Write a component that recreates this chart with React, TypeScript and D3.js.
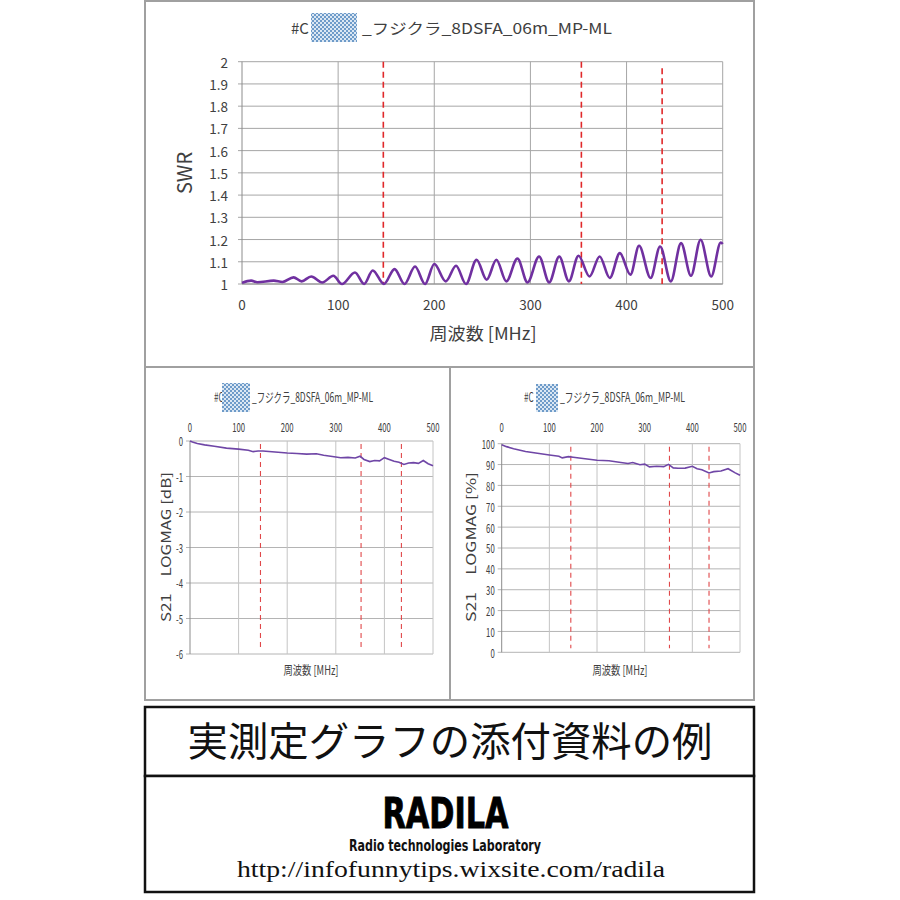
import { useEffect, useRef } from 'react';
import * as d3 from 'd3';

// SWR extremes (MHz, SWR)
const swrFreq = [
  0, 9.5, 16, 33, 42, 53.6, 62, 72, 83.5, 95, 104, 117.5, 127, 136, 147.6, 158.7, 169, 180, 190.4, 200,
  212, 222.6, 233, 244, 254.5, 264.6, 275, 286.5, 297, 309, 319.5, 330, 340, 350, 361.5, 372, 382.5, 393,
  404, 413, 425, 434.9, 446, 456.7, 467, 477, 488, 498, 500,
];
const swrValue = [
  1.005, 1.015, 1.008, 1.015, 1.009, 1.03, 1.012, 1.034, 1.007, 1.037, 1.0, 1.052, 1.0, 1.061, 1.0, 1.067,
  1.0, 1.079, 1.0, 1.09, 1.012, 1.082, 1.0, 1.109, 1.019, 1.109, 1.012, 1.115, 1.007, 1.124, 1.007, 1.124,
  1.012, 1.127, 1.034, 1.124, 1.027, 1.139, 1.042, 1.172, 1.027, 1.169, 1.012, 1.184, 1.037, 1.199, 1.034,
  1.187, 1.18,
];

// S21 in dB (lower left)
const s21Freq = [
  0, 5, 15, 30, 50, 75, 100, 120, 130, 140, 150, 175, 200, 220, 240, 260, 275, 300, 310, 325, 340, 350, 358,
  370, 380, 390, 400, 410, 420, 430, 440, 450, 460, 470, 480, 490, 500,
];
const s21Db = [
  0, -0.03, -0.07, -0.11, -0.15, -0.2, -0.23, -0.26, -0.3, -0.28, -0.28, -0.31, -0.34, -0.35, -0.37, -0.36,
  -0.4, -0.45, -0.47, -0.46, -0.48, -0.43, -0.52, -0.58, -0.55, -0.56, -0.47, -0.52, -0.57, -0.6, -0.66,
  -0.62, -0.61, -0.63, -0.55, -0.64, -0.7,
];

// S21 in percent (lower right)
const pctFreq = [
  0, 10, 25, 50, 75, 100, 120, 127, 140, 150, 175, 200, 225, 250, 265, 275, 290, 300, 310, 325, 340, 350,
  360, 370, 385, 400, 410, 420, 435, 445, 460, 475, 490, 500,
];
const pctValue = [
  99.5, 98.6, 97.6, 96.3, 95.4, 94.6, 94.0, 93.2, 93.8, 93.5, 92.8, 92.1, 91.8, 91.0, 90.5, 91.0, 89.9, 90.2,
  88.9, 89.2, 89.0, 90.1, 88.4, 88.2, 88.3, 89.2, 88.0, 87.5, 86.0, 86.6, 86.9, 88.0, 86.0, 84.9,
];

const markerFreq = [147, 353, 437];
const lowerMarkerFreq = [145, 352, 435];

const freqTicks = [0, 100, 200, 300, 400, 500];
const swrTicks = [1, 1.1, 1.2, 1.3, 1.4, 1.5, 1.6, 1.7, 1.8, 1.9, 2];
const dbTicks = [0, -1, -2, -3, -4, -5, -6];
const pctTicks = [0, 10, 20, 30, 40, 50, 60, 70, 80, 90, 100];

const titleHead = '#C';
const titleTail = '_フジクラ_8DSFA_06m_MP-ML';
const freqTitle = '周波数 [MHz]';
const noteText = '実測定グラフの添付資料の例';
const brandName = 'RADILA';
const brandSub = 'Radio technologies  Laboratory';
const brandUrl = 'http://infofunnytips.wixsite.com/radila';

const FONT = "'Noto Sans CJK JP', 'Noto Sans', sans-serif";
const TEXT = '#404040';

type Sel = d3.Selection<SVGSVGElement, unknown, null, undefined>;

function drawTitle(
  svg: Sel,
  headX: number,
  y: number,
  size: number,
  squeeze: number,
  box: [number, number, number, number],
  tailX: number,
  tailW: number
) {
  svg
    .append('text')
    .attr('transform', `translate(${headX},${y}) scale(${squeeze},1)`)
    .attr('dominant-baseline', 'central')
    .attr('font-family', FONT)
    .attr('font-size', size)
    .attr('fill', TEXT)
    .text(titleHead);
  svg
    .append('rect')
    .attr('x', box[0])
    .attr('y', box[1])
    .attr('width', box[2])
    .attr('height', box[3])
    .attr('fill', 'url(#checker)');
  svg
    .append('text')
    .attr('x', tailX)
    .attr('y', y)
    .attr('dominant-baseline', 'central')
    .attr('font-family', FONT)
    .attr('font-size', size)
    .attr('fill', TEXT)
    .attr('textLength', tailW)
    .attr('lengthAdjust', 'spacingAndGlyphs')
    .text(titleTail);
}

function drawTop(svg: Sel) {
  const x = d3.scaleLinear().domain([0, 500]).range([242, 722.7]);
  const y = d3.scaleLinear().domain([1, 2]).range([284, 61.7]);

  svg
    .append('g')
    .selectAll('line')
    .data(swrTicks)
    .join('line')
    .attr('x1', x(0) - 4)
    .attr('x2', x(500))
    .attr('y1', (d: number) => y(d))
    .attr('y2', (d: number) => y(d))
    .attr('stroke', '#a6a6a6');

  svg
    .append('g')
    .selectAll('line')
    .data(freqTicks)
    .join('line')
    .attr('x1', (d: number) => x(d))
    .attr('x2', (d: number) => x(d))
    .attr('y1', y(2))
    .attr('y2', y(1))
    .attr('stroke', (d: number) => (d === 0 ? '#8c8c8c' : '#a6a6a6'));

  svg
    .append('line')
    .attr('x1', x(0))
    .attr('x2', x(500))
    .attr('y1', y(1))
    .attr('y2', y(1))
    .attr('stroke', '#8c8c8c');

  svg
    .append('g')
    .selectAll('text')
    .data(swrTicks)
    .join('text')
    .attr('x', 228)
    .attr('y', (d: number) => y(d))
    .attr('text-anchor', 'end')
    .attr('dominant-baseline', 'central')
    .attr('font-family', FONT)
    .attr('font-size', 13.5)
    .attr('fill', TEXT)
    .text((d: number) => d3.format('~g')(d));

  svg
    .append('g')
    .selectAll('text')
    .data(freqTicks)
    .join('text')
    .attr('x', (d: number) => x(d))
    .attr('y', 304)
    .attr('text-anchor', 'middle')
    .attr('dominant-baseline', 'central')
    .attr('font-family', FONT)
    .attr('font-size', 13.5)
    .attr('fill', TEXT)
    .text((d: number) => String(d));

  svg
    .append('g')
    .selectAll('line')
    .data(markerFreq)
    .join('line')
    .attr('x1', (d: number) => x(d))
    .attr('x2', (d: number) => x(d))
    .attr('y1', (_d: number, i: number) => (i === 2 ? y(1.97) : y(2)))
    .attr('y2', y(1))
    .attr('stroke', '#e0282a')
    .attr('stroke-width', 1.6)
    .attr('stroke-dasharray', '6,4');

  const line = d3
    .line<number>()
    .x((_d: number, i: number) => x(swrFreq[i]))
    .y((d: number) => y(d))
    .curve(d3.curveMonotoneX);
  svg
    .append('path')
    .attr('d', line(swrValue))
    .attr('fill', 'none')
    .attr('stroke', '#7030a0')
    .attr('stroke-width', 2.6);

  svg
    .append('text')
    .attr('transform', 'translate(183,173) rotate(-90)')
    .attr('text-anchor', 'middle')
    .attr('dominant-baseline', 'central')
    .attr('font-family', FONT)
    .attr('font-size', 20)
    .attr('fill', TEXT)
    .text('SWR');

  svg
    .append('text')
    .attr('x', 483)
    .attr('y', 332)
    .attr('text-anchor', 'middle')
    .attr('dominant-baseline', 'central')
    .attr('font-family', FONT)
    .attr('font-size', 17)
    .attr('fill', TEXT)
    .attr('textLength', 107)
    .attr('lengthAdjust', 'spacingAndGlyphs')
    .text(freqTitle);

  drawTitle(svg, 291, 27, 15, 1, [311, 13, 46, 29], 362, 250);
}

type LowerSpec = {
  left: number;
  right: number;
  top: number;
  bottom: number;
  yDomain: [number, number];
  yTicks: number[];
  freq: number[];
  values: number[];
  yLabel: string;
  yLabelX: number;
  headX: number;
  box: [number, number, number, number];
  tailX: number;
  tailW: number;
  xTitleX: number;
};

function drawLower(svg: Sel, s: LowerSpec) {
  const x = d3.scaleLinear().domain([0, 500]).range([s.left, s.right]);
  const y = d3.scaleLinear().domain(s.yDomain).range([s.bottom, s.top]);
  const sq = 0.62;

  svg
    .append('g')
    .selectAll('line')
    .data(s.yTicks)
    .join('line')
    .attr('x1', s.left - 4)
    .attr('x2', s.right)
    .attr('y1', (d: number) => y(d))
    .attr('y2', (d: number) => y(d))
    .attr('stroke', '#b4b4b4');

  svg
    .append('g')
    .selectAll('line')
    .data(freqTicks)
    .join('line')
    .attr('x1', (d: number) => x(d))
    .attr('x2', (d: number) => x(d))
    .attr('y1', s.top)
    .attr('y2', s.bottom)
    .attr('stroke', (d: number) => (d === 0 ? '#8c8c8c' : '#c4c4c4'));

  svg
    .append('g')
    .selectAll('text')
    .data(s.yTicks)
    .join('text')
    .attr('transform', (d: number) => `translate(${s.left - 7},${y(d)}) scale(${sq},1)`)
    .attr('text-anchor', 'end')
    .attr('dominant-baseline', 'central')
    .attr('font-family', FONT)
    .attr('font-size', 12.5)
    .attr('fill', TEXT)
    .text((d: number) => String(d));

  svg
    .append('g')
    .selectAll('text')
    .data(freqTicks)
    .join('text')
    .attr('transform', (d: number) => `translate(${x(d)},427) scale(${sq},1)`)
    .attr('text-anchor', 'middle')
    .attr('dominant-baseline', 'central')
    .attr('font-family', FONT)
    .attr('font-size', 12.5)
    .attr('fill', TEXT)
    .text((d: number) => String(d));

  svg
    .append('g')
    .selectAll('line')
    .data(lowerMarkerFreq)
    .join('line')
    .attr('x1', (d: number) => x(d))
    .attr('x2', (d: number) => x(d))
    .attr('y1', s.top + 3)
    .attr('y2', s.bottom - 4)
    .attr('stroke', '#e0484a')
    .attr('stroke-width', 1.1)
    .attr('stroke-dasharray', '5,4');

  const line = d3
    .line<number>()
    .x((_d: number, i: number) => x(s.freq[i]))
    .y((d: number) => y(d))
    .curve(d3.curveLinear);
  svg
    .append('path')
    .attr('d', line(s.values))
    .attr('fill', 'none')
    .attr('stroke', '#6f46a6')
    .attr('stroke-width', 1.6);

  svg
    .append('text')
    .attr('transform', `translate(${s.yLabelX},547) rotate(-90)`)
    .attr('text-anchor', 'middle')
    .attr('dominant-baseline', 'central')
    .attr('font-family', FONT)
    .attr('font-size', 13)
    .attr('fill', TEXT)
    .attr('textLength', 150)
    .attr('lengthAdjust', 'spacingAndGlyphs')
    .text(s.yLabel);

  svg
    .append('text')
    .attr('x', s.xTitleX)
    .attr('y', 669)
    .attr('text-anchor', 'middle')
    .attr('dominant-baseline', 'central')
    .attr('font-family', FONT)
    .attr('font-size', 12.5)
    .attr('fill', TEXT)
    .attr('textLength', 55)
    .attr('lengthAdjust', 'spacingAndGlyphs')
    .text(freqTitle);

  drawTitle(svg, s.headX, 396, 13, 0.62, s.box, s.tailX, s.tailW);
}

function drawFrames(svg: Sel) {
  const panels: [number, number, number, number][] = [
    [145, 1, 609, 366],
    [145, 367, 305, 333],
    [450, 367, 304, 333],
  ];
  svg
    .append('g')
    .selectAll('rect')
    .data(panels)
    .join('rect')
    .attr('x', (d: [number, number, number, number]) => d[0])
    .attr('y', (d: [number, number, number, number]) => d[1])
    .attr('width', (d: [number, number, number, number]) => d[2])
    .attr('height', (d: [number, number, number, number]) => d[3])
    .attr('fill', '#ffffff')
    .attr('stroke', '#a0a0a0')
    .attr('stroke-width', 2);

  svg
    .append('rect')
    .attr('x', 145)
    .attr('y', 707)
    .attr('width', 609)
    .attr('height', 69)
    .attr('fill', '#ffffff')
    .attr('stroke', '#111')
    .attr('stroke-width', 2.5);
  svg
    .append('rect')
    .attr('x', 145)
    .attr('y', 776)
    .attr('width', 609)
    .attr('height', 116)
    .attr('fill', '#ffffff')
    .attr('stroke', '#111')
    .attr('stroke-width', 2.5);
}

function drawNotes(svg: Sel) {
  svg
    .append('text')
    .attr('x', 450)
    .attr('y', 739)
    .attr('text-anchor', 'middle')
    .attr('dominant-baseline', 'central')
    .attr('font-family', FONT)
    .attr('font-size', 40)
    .attr('fill', '#111')
    .attr('textLength', 525)
    .attr('lengthAdjust', 'spacingAndGlyphs')
    .text(noteText);

  // tall condensed logo
  svg
    .append('text')
    .attr('transform', 'translate(445.5,828) scale(1,1.2)')
    .attr('text-anchor', 'middle')
    .attr('font-family', "'DejaVu Sans', sans-serif")
    .attr('font-weight', 'bold')
    .attr('font-size', 36)
    .attr('fill', '#000')
    .attr('stroke', '#000')
    .attr('stroke-width', 0.8)
    .attr('textLength', 126)
    .attr('lengthAdjust', 'spacingAndGlyphs')
    .text(brandName);

  svg
    .append('text')
    .attr('x', 445)
    .attr('y', 851)
    .attr('text-anchor', 'middle')
    .attr('font-family', "'DejaVu Sans', sans-serif")
    .attr('font-weight', 'bold')
    .attr('font-size', 15)
    .attr('fill', '#111')
    .attr('textLength', 192)
    .attr('lengthAdjust', 'spacingAndGlyphs')
    .text(brandSub);

  svg
    .append('text')
    .attr('x', 451)
    .attr('y', 877)
    .attr('text-anchor', 'middle')
    .attr('font-family', "'Liberation Serif', 'DejaVu Serif', serif")
    .attr('font-size', 24)
    .attr('fill', '#111')
    .attr('textLength', 428)
    .attr('lengthAdjust', 'spacingAndGlyphs')
    .text(brandUrl);
}

function drawAll(svgElement: SVGSVGElement) {
  const svg = d3.select(svgElement) as Sel;
  svg.selectAll('*').remove();

  const defs = svg.append('defs');
  const pattern = defs
    .append('pattern')
    .attr('id', 'checker')
    .attr('width', 4)
    .attr('height', 4)
    .attr('patternUnits', 'userSpaceOnUse');
  pattern.append('rect').attr('width', 4).attr('height', 4).attr('fill', '#dbe7f3');
  pattern.append('rect').attr('width', 2).attr('height', 2).attr('fill', '#6e9bc9');
  pattern.append('rect').attr('x', 2).attr('y', 2).attr('width', 2).attr('height', 2).attr('fill', '#6e9bc9');

  drawFrames(svg);
  drawTop(svg);
  drawLower(svg, {
    left: 190,
    right: 433,
    top: 441,
    bottom: 654,
    yDomain: [-6, 0],
    yTicks: dbTicks,
    freq: s21Freq,
    values: s21Db,
    yLabel: 'S21　LOGMAG [dB]',
    yLabelX: 165,
    headX: 214,
    box: [222, 383, 28, 29],
    tailX: 252,
    tailW: 121,
    xTitleX: 311,
  });
  drawLower(svg, {
    left: 501.7,
    right: 740,
    top: 443.7,
    bottom: 652.3,
    yDomain: [0, 100],
    yTicks: pctTicks,
    freq: pctFreq,
    values: pctValue,
    yLabel: 'S21　LOGMAG [%]',
    yLabelX: 470,
    headX: 524,
    box: [536, 384, 22, 28],
    tailX: 560,
    tailW: 125,
    xTitleX: 620,
  });
  drawNotes(svg);
}

export default function App() {
  const ref = useRef<SVGSVGElement>(null);

  useEffect(() => {
    if (ref.current) {
      drawAll(ref.current);
    }
  }, []);

  return (
    <div style={{ position: 'absolute', left: 0, top: 0, width: 900, height: 900, background: '#fff' }}>
      <svg ref={ref} width={900} height={900} style={{ display: 'block' }} />
    </div>
  );
}
